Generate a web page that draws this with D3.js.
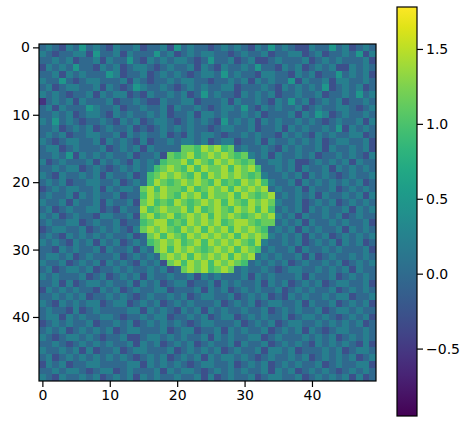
<!DOCTYPE html>
<html><head><meta charset="utf-8">
<script src="https://cdn.jsdelivr.net/npm/d3@7"></script>
<style>body{margin:0;background:#fff}text{font-family:"DejaVu Sans",sans-serif}</style>
</head><body><svg id="c" width="474" height="424"></svg>
<script>
// level digits per cell
const rows = [
"3432435343 2433423342 5343323434 3243534322 4335342343",
"4323344253 3424333534 2343443323 4334233442 3423343524",
"3343423342 4335324343 4432353342 3422343334 2343433342",
"2434353324 3423443234 3342432433 4353324342 3434224343",
"3342434333 5423342343 4323443534 3324433243 4233534342",
"4335323443 3342432334 3443323343 4243433524 3342443343",
"3423443342 4323543343 2343433442 3334324343 4352343423",
"4343233424 3442324334 3423534332 4343423343 3423343534",
"1343424333 4233432243 3442333424 3343243534 2343423343",
"3424333543 3423343342 4334323443 5324343342 3433443234",
"3343423443 2434334342 3342443433 4342333424 3542343343",
"4353432334 3243423443 2343432534 3424343343 4323433424",
"3342343423 4334232343 4343323443 3423342434 3343524343",
"3434233443 3424343342 3243443233 4343324343 2434334423",
"4323443342 4343242334 3443423442 3342433434 3423443342",
"3442343334 2343424333 3776878673 4334324343 3424334342",
"3343524343 4334233427 6786787876 7434243343 4233434324",
"4234333424 3432434367 7868768787 6733443422 3434342433",
"3343442343 2343434678 7686877868 7863343424 3342434343",
"4324334342 4334236787 8768687878 7674334342 4343234334",
"3434233443 3423436876 7878768676 8786433424 3434343423",
"2343443342 4344378687 7686787868 7878343342 4334234343",
"3433424343 3423368787 6878687786 8767834343 4243343424",
"4334243342 4334278676 8767878687 6878743342 3434234343",
"3423433442 3243386787 7868678768 7868634342 4343342434",
"4342343324 4334278678 6787868787 6787843424 3343423433",
"3433442343 3423367886 7687878678 8767734342 4334343342",
"2344334234 3432478787 6878687868 7876343424 3433424343",
"3432434343 4334237868 7687878786 8787434342 4342343434",
"4343243424 3423436787 8678687878 7684334342 3434243423",
"3324343342 4334243786 8787678786 8763433424 3343433342",
"3443423433 3423434378 7868787868 7834343342 4234334343",
"4334234342 4343243427 8687868787 6343434234 3343423434",
"3423443423 3434334342 3787867873 4334323443 3434342433",
"4343334234 2343424334 3342434333 4243433342 4334234343",
"3342423443 4334243423 4423342434 3342434234 3423443342",
"2434343324 3423433442 3334243423 4343342343 4334234343",
"3343434233 4343234334 3423443342 3434232434 3343442334",
"4324343442 3442343423 4343334234 3423443342 4334234342",
"3433242343 3334424343 2434243433 4334234343 3423443433",
"3442434334 4323343442 3343423442 3434334234 4343234342",
"2343433423 3434234343 4323443334 2343423443 3434343423",
"3434234343 4234433342 3442334243 4334234342 4323443343",
"4323443432 3342234434 3433424343 3442343334 3434234343",
"3343234343 4334243423 4342343342 4334234343 2434343242",
"4334342423 3423443334 2343434234 3342443423 3343423443",
"3423434343 4343234342 3434243443 4323433434 2343434234",
"2434233443 3334424343 4323443342 3434234343 3423433442",
"3343443234 4234333424 3443234343 4334243423 4343234343",
"4324334342 3434243433 4334242343 3423443342 3434342423"
];
const levels = [-0.9,-0.55,-0.28,-0.03,0.22,0.5,0.95,1.15,1.4,1.72];
const xTicks = [0,10,20,30,40];
const yTicks = [0,10,20,30,40];
const cbTicks = [-0.5,0.0,0.5,1.0,1.5];
const vmin = -0.95, vmax = 1.78;

const data = rows.map(r=>r.replace(/ /g,"").split("").map(d=>levels[+d]));
const N = 50;
const svg = d3.select("#c");
const L=39,T=44,S=337;
const x = d3.scaleBand().domain(d3.range(N)).range([L,L+S]);
const y = d3.scaleBand().domain(d3.range(N)).range([T,T+S]);
const color = d3.scaleSequential(d3.interpolateViridis).domain([vmin,vmax]);
const cells=[];
data.forEach((r,i)=>r.forEach((v,j)=>cells.push({i,j,v})));
svg.append("g").selectAll("rect").data(cells).join("rect")
 .attr("x",d=>x(d.j)).attr("y",d=>y(d.i)).attr("width",x.bandwidth()+0.3).attr("height",y.bandwidth()+0.3)
 .attr("fill",d=>color(d.v)).attr("shape-rendering","crispEdges");
svg.append("rect").attr("x",L).attr("y",T).attr("width",S).attr("height",S).attr("fill","none").attr("stroke","#000").attr("stroke-width",1.2);
const xa = d3.scaleLinear().domain([-0.5,N-0.5]).range([L,L+S]);
const ya = d3.scaleLinear().domain([-0.5,N-0.5]).range([T,T+S]);
const gx = svg.append("g").attr("transform",`translate(0,${T+S})`).call(d3.axisBottom(xa).tickValues(xTicks).tickSize(6).tickPadding(3));
const gy = svg.append("g").attr("transform",`translate(${L},0)`).call(d3.axisLeft(ya).tickValues(yTicks).tickSize(6).tickPadding(3));
[gx,gy].forEach(g=>{g.select(".domain").remove();g.selectAll("line").attr("stroke-width",1.2);g.selectAll("text").style("font-size","14px").attr("fill","#000");});
// colorbar
const CX=397,CW=20,CT=7,CB=416;
const cy = d3.scaleLinear().domain([vmin,vmax]).range([CB,CT]);
const defs=svg.append("defs");
const grad=defs.append("linearGradient").attr("id","g").attr("x1",0).attr("x2",0).attr("y1",1).attr("y2",0);
d3.range(0,1.001,0.05).forEach(t=>grad.append("stop").attr("offset",t).attr("stop-color",d3.interpolateViridis(t)));
svg.append("rect").attr("x",CX).attr("y",CT).attr("width",CW).attr("height",CB-CT).attr("fill","url(#g)").attr("stroke","#000").attr("stroke-width",1.2);
const gc=svg.append("g").attr("transform",`translate(${CX+CW},0)`).call(d3.axisRight(cy).tickValues(cbTicks).tickFormat(d=>(d<0?"\u22120.5":d.toFixed(1))).tickSize(6).tickPadding(3));
gc.select(".domain").remove();gc.selectAll("line").attr("stroke-width",1.2);gc.selectAll("text").style("font-size","14px").attr("fill","#000");
</script></body></html>
